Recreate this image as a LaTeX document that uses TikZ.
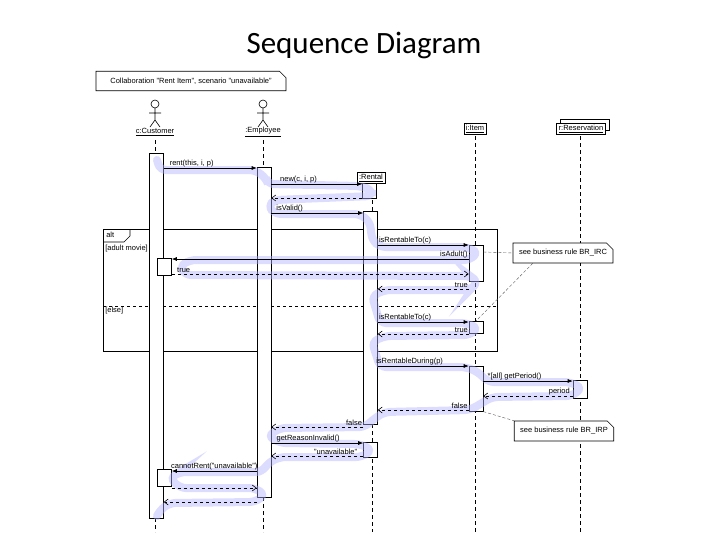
\documentclass[tikz,border=0pt]{standalone}
\usepackage{fontspec}
\setmainfont{Liberation Sans}
\newfontfamily\titlefont{Carlito}
\usetikzlibrary{arrows.meta,calc,shapes.misc}

\tikzset{
  act/.style={draw,fill=white,inner sep=0pt,minimum width=14pt,anchor=north},
  obj/.style={draw,fill=white,inner sep=2pt,font=\fontsize{7.5}{9}\selectfont},
  life/.style={dash pattern=on 4pt off 3pt},
  msg/.style={-{Latex[length=5pt,width=4pt]}},
  ret/.style={dashed,-{Straight Barb[length=4pt,width=6pt]}},
  lbl/.style={font=\fontsize{7.5}{9}\selectfont,inner sep=1pt},
  note/.style={draw,fill=white,inner sep=3pt,font=\fontsize{7.5}{9}\selectfont,
    chamfered rectangle,chamfered rectangle corners=north east,chamfered rectangle xsep=3pt},
  notelink/.style={densely dashed,gray!70!black,thin},
  flow/.style={line width=8pt,blue!30,opacity=0.45,line cap=round,rounded corners=6pt}
}
\newcommand{\actor}[2]{% stick figure at (#1,#2)
  \draw (#1,#2) circle (4pt);
  \draw (#1,#2+4) -- (#1,#2+16) (#1-6,#2+9) -- (#1+6,#2+9)
        (#1-5,#2+23) -- (#1,#2+16) -- (#1+5,#2+23);
}

\begin{document}
\begin{tikzpicture}[x=1pt,y=-1pt,line width=0.6pt]
    \useasboundingbox (0,0) rectangle (728,546);
    \node[font=\titlefont\fontsize{31}{34}\selectfont] (title) at (364,45) {Sequence Diagram};

    % note on top
    \node[note,minimum height=18pt,minimum width=190pt] (collab) at (191,81) {Collaboration "Rent Item", scenario "unavailable"};

    % lifelines
    \draw[life] (155,140) -- (155,532);
    \draw[life] (263,140) -- (263,532);
    \draw[life] (372,186) -- (372,532);
    \draw[life] (475,136) -- (475,532);
    \draw[life] (580,136) -- (580,532);

    % actors and objects
    \actor{155}{104}
    \actor{263}{104}
    \node[lbl] (cust) at (155,132) {\underline{c:Customer}};
    \node[lbl] (empl) at (263,132) {\underline{:Employee}};
    \node[obj] (rental) at (371,178) {\underline{:Rental}};
    \node[obj] (item) at (475,129) {\underline{i:Item}};
    \node[obj] (resbg) at (585,125) {\phantom{\underline{r:Reservation}}};
    \node[obj] (res) at (581,129) {\underline{r:Reservation}};

    % alt frame
    \draw (103,229) rectangle (497,351);
    \draw (103,242) -- (124,242) -- (130,236) -- (130,229);
    \node[lbl,anchor=west] (alt) at (105,235) {alt};
    \node[lbl,anchor=west] (g1) at (104,249) {[adult movie]};
    \draw[dashed] (103,306) -- (497,306);
    \node[lbl,anchor=west] (g2) at (104,311) {[else]};

    % activations
    \node[act,minimum height=365pt] (aC) at (156.5,153) {};
    \node[act,minimum height=330pt] (aE) at (264,167) {};
    \node[act,minimum height=15pt] (aR1) at (369.5,183) {};
    \node[act,minimum height=213pt] (aR2) at (370.5,211) {};
    \node[act,minimum height=36pt] (aI1) at (476,245) {};
    \node[act,minimum height=17pt] (aC1) at (164.5,258) {};
    \node[act,minimum height=12pt] (aI2) at (476,321) {};
    \node[act,minimum height=45pt] (aI3) at (476,366) {};
    \node[act,minimum height=18pt] (aS1) at (580,380) {};
    \node[act,minimum height=15pt] (aR3) at (370.5,442) {};
    \node[act,minimum height=17pt] (aC2) at (164.5,469) {};

    % highlighted flow
    \draw[flow] (157,160) -- (160,170) -- (255,170) -- (266,178) -- (268,184) -- (360,186)
      -- (372,190) -- (372,196) -- (275,200) -- (268,206) -- (275,214) -- (360,214)
      -- (370,222) -- (372,240) -- (380,247) -- (466,247) -- (478,252) -- (470,260)
      -- (190,260) -- (180,266) -- (185,275) -- (470,276) -- (478,282) -- (470,290)
      -- (385,290) -- (372,296) -- (380,323) -- (466,323) -- (478,328) -- (470,335)
      -- (385,336) -- (372,342) -- (380,367) -- (466,367) -- (478,372) -- (488,382)
      -- (570,382) -- (582,388) -- (572,396) -- (492,397) -- (482,403) -- (470,410)
      -- (385,412) -- (375,418) -- (365,427) -- (280,428) -- (268,436) -- (280,443)
      -- (360,444) -- (372,450) -- (362,457) -- (280,457) -- (268,463) -- (262,472)
      -- (180,472) -- (170,478) -- (180,488) -- (255,488) -- (265,495) -- (255,502)
      -- (170,503) -- (160,510) -- (157,516);

    % messages
    \draw[msg] (aC.east |- 0,168) -- node[lbl,above,pos=0.3] {rent(this, i, p)} (aE.west |- 0,168);
    \draw[msg] (aE.east |- 0,184) -- node[lbl,above,pos=0.3] {new(c, i, p)} (aR1.west |- 0,184);
    \draw[ret] (aR1.west |- 0,198) -- (aE.east |- 0,198);
    \draw[msg] (aE.east |- 0,213) -- node[lbl,above,pos=0.2] {isValid()} (aR2.west |- 0,213);
    \draw[msg] (aR2.east |- 0,245) -- node[lbl,above,pos=0.3] {isRentableTo(c)} (aI1.west |- 0,245);
    \draw[msg] (aI1.west |- 0,259) -- node[lbl,above,pos=0.05] {isAdult()} (aC1.east |- 0,259);
    \draw[ret] (aC1.east |- 0,274) -- node[lbl,above,pos=0.04] {true} (aI1.west |- 0,274);
    \draw[ret] (aI1.west |- 0,289) -- node[lbl,above,pos=0.08] {true} (aR2.east |- 0,289);
    \draw[msg] (aR2.east |- 0,322) -- node[lbl,above,pos=0.3] {isRentableTo(c)} (aI2.west |- 0,322);
    \draw[ret] (aI2.west |- 0,334) -- node[lbl,above,pos=0.08] {true} (aR2.east |- 0,334);
    \draw[msg] (aR2.east |- 0,366) -- node[lbl,above,pos=0.35] {isRentableDuring(p)} (aI3.west |- 0,366);
    \draw[msg] (aI3.east |- 0,381) -- node[lbl,above,pos=0.35] {*[all] getPeriod()} (aS1.west |- 0,381);
    \draw[ret] (aS1.west |- 0,396) -- node[lbl,above,pos=0.15] {period} (aI3.east |- 0,396);
    \draw[ret] (aI3.west |- 0,410) -- node[lbl,above,pos=0.1] {false} (aR2.east |- 0,410);
    \draw[ret] (aR2.west |- 0,427) -- node[lbl,above,pos=0.1] {false} (aE.east |- 0,427);
    \draw[msg] (aE.east |- 0,443) -- node[lbl,above,pos=0.4] {getReasonInvalid()} (aR3.west |- 0,443);
    \draw[ret] (aR3.west |- 0,456) -- node[lbl,above,pos=0.3] {"unavailable"} (aE.east |- 0,456);
    \draw[msg] (aE.west |- 0,471) -- node[lbl,above,pos=0.5] {cannotRent("unavailable")} (aC2.east |- 0,471);
    \draw[ret] (aC2.east |- 0,488) -- (aE.west |- 0,488);
    \draw[ret] (aE.west |- 0,502) -- (aC.east |- 0,502);

    % business rule notes
    \node[note] (irc) at (563,253) {see business rule BR\_IRC};
    \node[note] (irp) at (564,431) {see business rule BR\_IRP};
    \draw[notelink] (aI1.east |- 0,252) -- (irc.west);
    \draw[notelink] (irc.south west) ++(20,0) coordinate (ircfoot) -- (aI2.north);
    \draw[notelink] (aI3.south east) -- (irp.north west);
\end{tikzpicture}
\end{document}
